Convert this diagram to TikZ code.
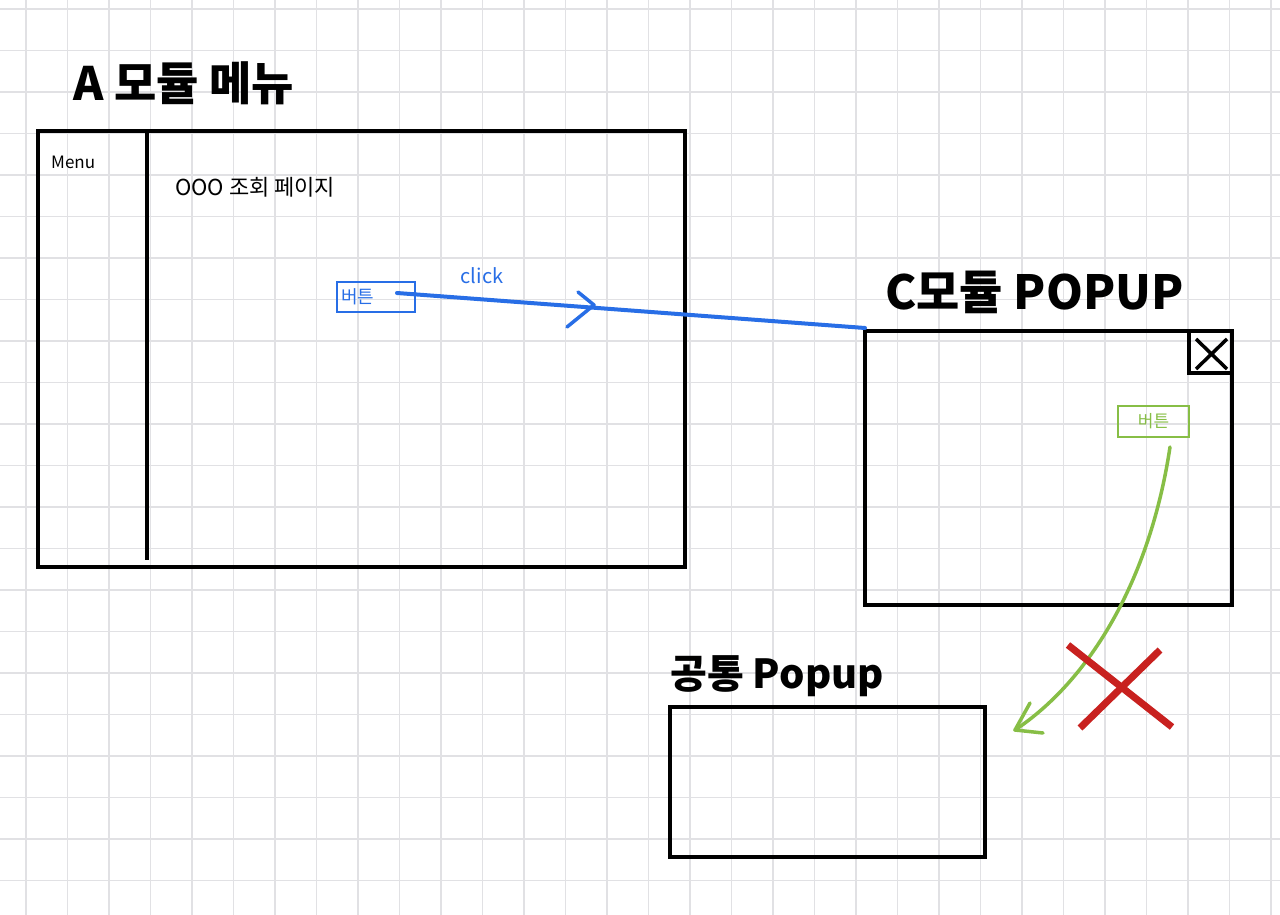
\documentclass[tikz,border=0pt]{standalone}
\usepackage{fontspec}
\newfontfamily\kr{Noto Sans CJK KR}
\definecolor{gridc}{RGB}{225,225,228}
\definecolor{blu}{RGB}{40,110,230}
\definecolor{grn}{RGB}{135,190,70}
\definecolor{redx}{RGB}{200,33,31}
\tikzset{
  frame/.style={draw=black,line width=4pt},
  lbl/.style={font=\kr,inner sep=0pt},
}
\begin{document}
\begin{tikzpicture}[x=1pt,y=-1pt]
\useasboundingbox (0,0) rectangle (1280,915);
\fill[white] (0,0) rectangle (1280,915);
\foreach \i in {0,...,30} {\draw[gridc,line width=1.2pt] (26+41.5*\i,0) -- (26+41.5*\i,915);}
\foreach \i in {0,...,21} {\draw[gridc,line width=1.2pt] (0,9+41.5*\i) -- (1280,9+41.5*\i);}
% A module
\node[lbl,font=\kr\bfseries\fontsize{46}{46}\selectfont,anchor=west] (ta) at (73,83) {A 모듈 메뉴};
\draw[frame] (38,131) rectangle (685,567);
\coordinate (dt) at (147,131); \coordinate (db) at (147,560);
\draw[frame] (dt) -- (db);
\node[lbl,font=\kr\fontsize{17}{17}\selectfont,anchor=west] (menu) at (51,162) {Menu};
\node[lbl,font=\kr\fontsize{22}{22}\selectfont,anchor=west] (page) at (175,187) {OOO 조회 페이지};
\node[draw=blu,line width=2pt,text=blu,font=\kr\fontsize{18}{18}\selectfont,minimum width=78pt,minimum height=30pt,inner sep=3pt,anchor=north west,text width=70pt,align=left] (b1) at (336,281) {버튼};
\node[lbl,text=blu,font=\kr\fontsize{20}{20}\selectfont] (click) at (482,276) {click};
% C module
\node[lbl,font=\kr\bfseries\fontsize{47}{47}\selectfont,anchor=west] (tc) at (885,292) {C모듈 POPUP};
\draw[frame] (865,331) rectangle (1232,605);
\coordinate (cin) at (865,328);
\draw[frame] (1189,331) rectangle (1232,373);
\draw[black,line width=3.5pt] (1196,339) -- (1227,369) (1227,339) -- (1196,369);
\coordinate (bs) at (397,293);
\draw[blu,line width=4pt,line cap=round] (bs) -- (cin);
\draw[blu,line width=3.5pt,line cap=round,line join=round] (578,292) -- (594,305) -- (567,327);
\node[draw=grn,line width=2pt,text=grn,font=\kr\fontsize{17}{17}\selectfont,minimum width=71pt,minimum height=31pt,inner sep=0pt,anchor=north west] (b2) at (1117,405) {버튼};
% common popup
\node[lbl,font=\kr\bfseries\fontsize{40}{40}\selectfont,anchor=west] (tp) at (670,676) {공통 Popup};
\draw[frame] (670,707) rectangle (985,857);
\coordinate (gs) at (1170,447);
\coordinate (ge) at (1015,730);
\draw[grn,line width=3.5pt,line cap=round] (gs) .. controls (1150,580) and (1090,680) .. (ge);
\draw[grn,line width=3.5pt,line cap=round,line join=round] (1030,703) -- (1015,730) -- (1043,733);
\draw[redx,line width=7pt] (1068,645) -- (1172,727) (1160,650) -- (1080,728);
\end{tikzpicture}
\end{document}
